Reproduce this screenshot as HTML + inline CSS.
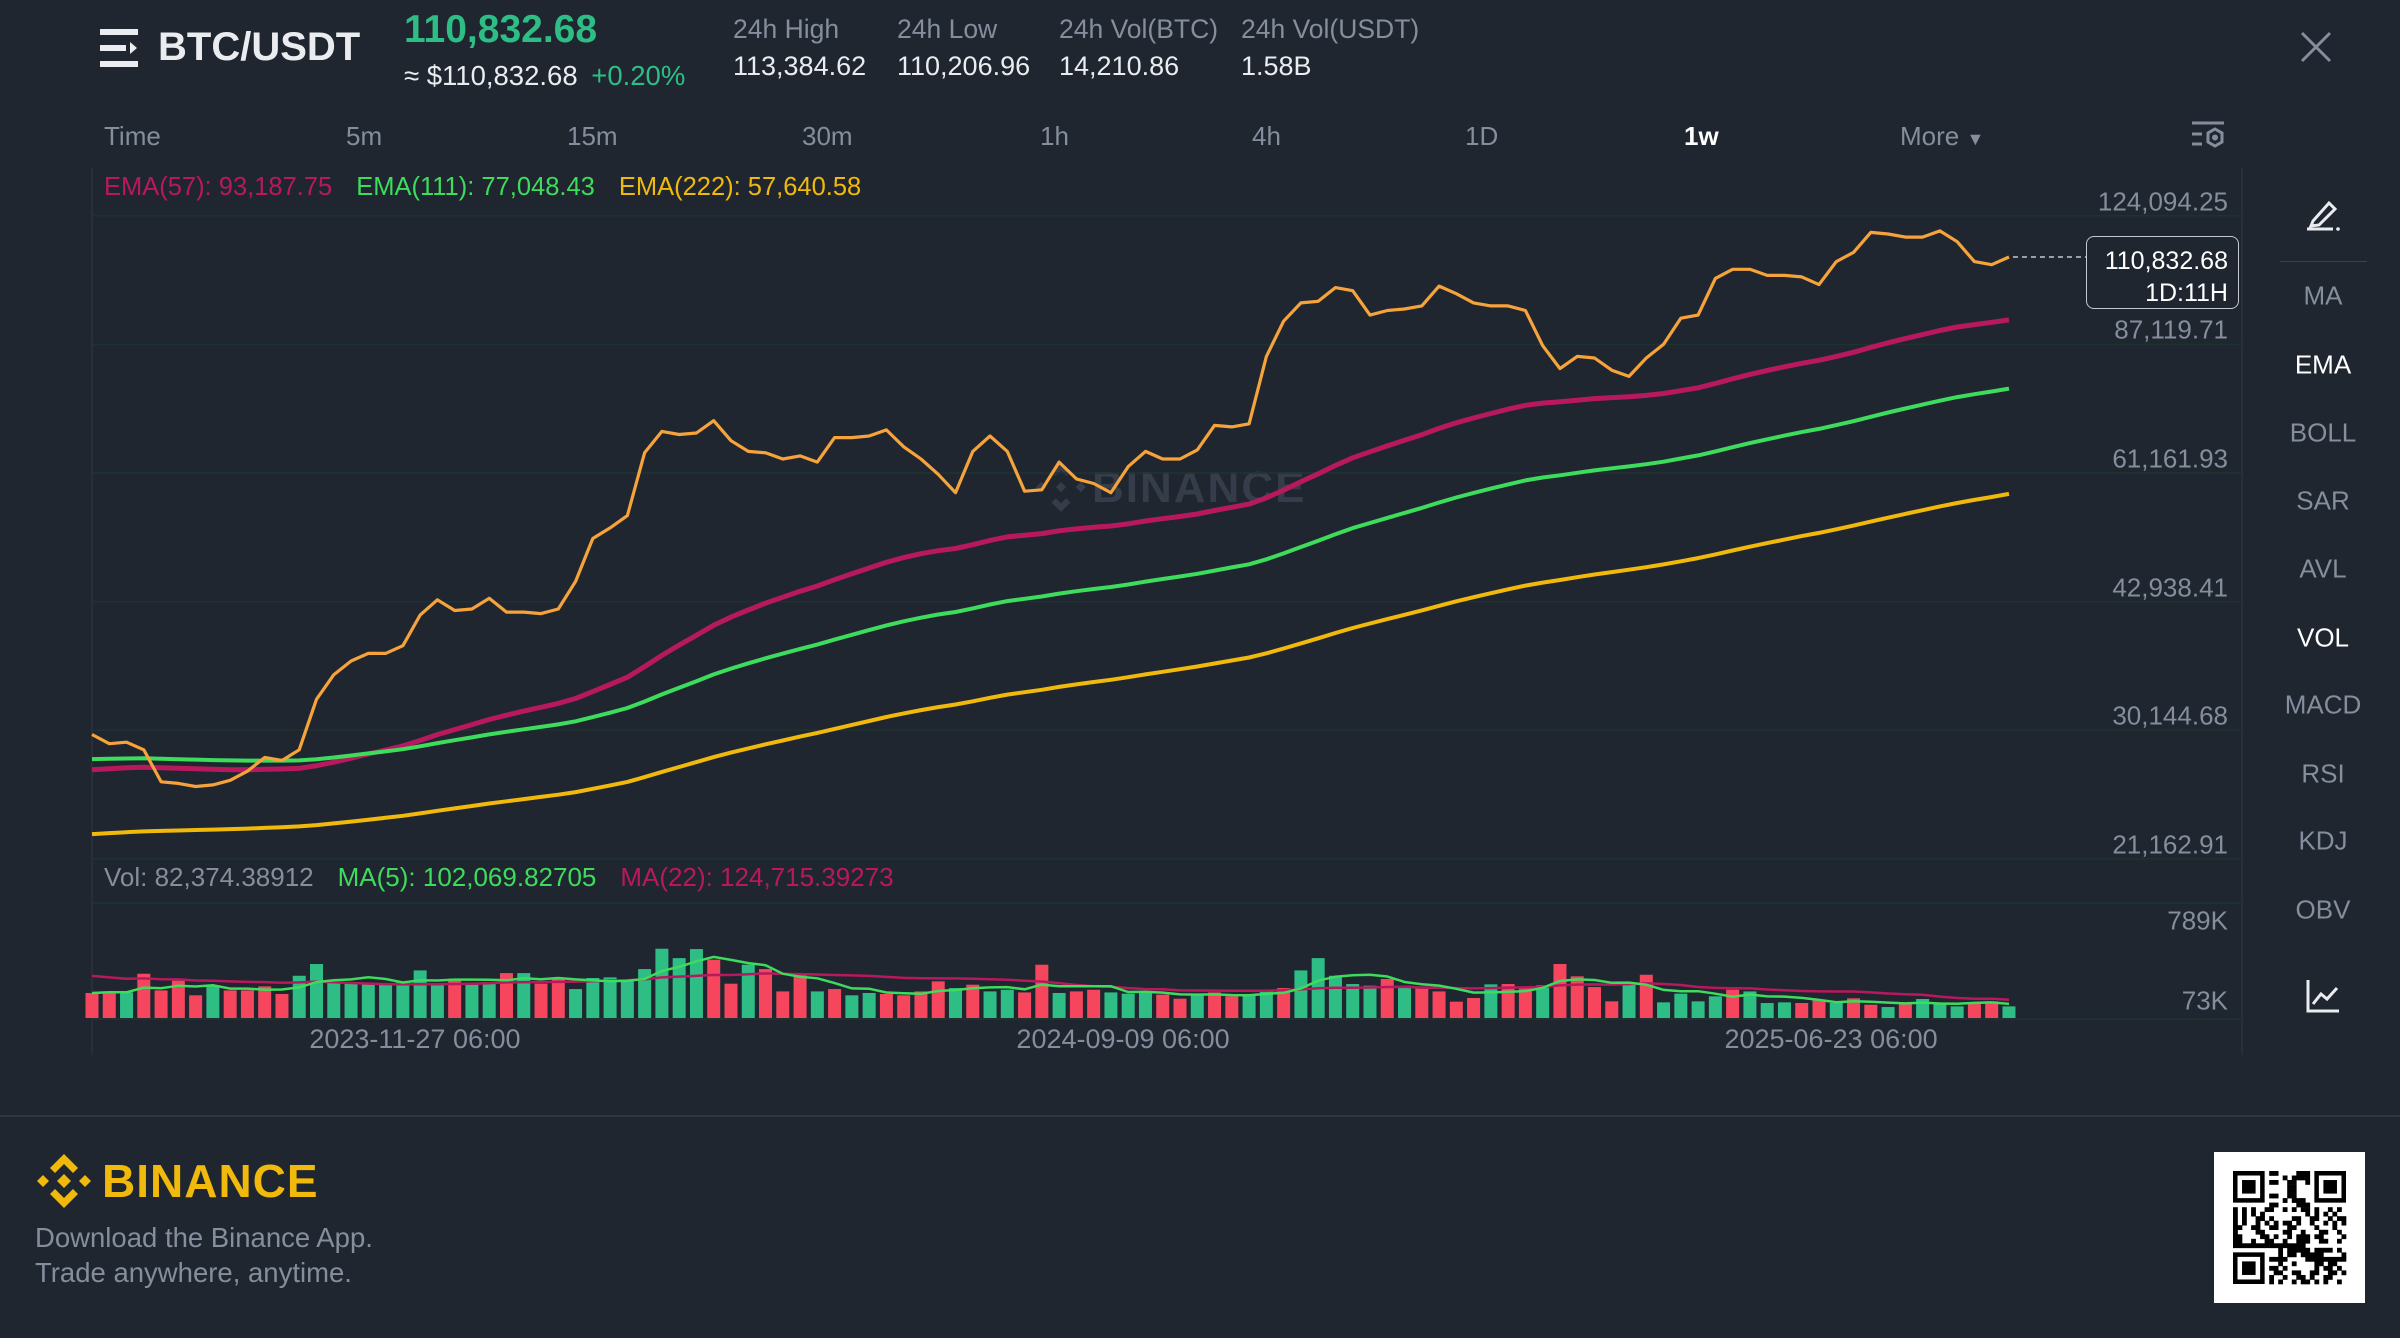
<!DOCTYPE html>
<html><head><meta charset="utf-8"><style>
*{margin:0;padding:0;box-sizing:border-box}
body{width:2400px;height:1338px;background:#1f2630;font-family:"Liberation Sans",sans-serif;overflow:hidden;position:relative;color:#eaecef}
.a{position:absolute;white-space:nowrap;line-height:1}
.g{color:#848e9c}
.tf{position:absolute;top:121px;font-size:26px;color:#848e9c}
.side{position:absolute;left:2323px;transform:translate(-50%,-50%);font-size:26px;color:#848e9c}
.ax{position:absolute;right:172px;font-size:26px;color:#848e9c;transform:translateY(-50%)}
</style></head><body>
<svg class="a" style="left:100px;top:29px" width="40" height="38" viewBox="0 0 40 38"><rect x="0" y="0" width="38" height="6" fill="#eaecef"/><rect x="0" y="16" width="26" height="6" fill="#eaecef"/><path d="M30 13 L37 19 L30 25Z" fill="#eaecef"/><rect x="0" y="32" width="38" height="6" fill="#eaecef"/></svg>
<div class="a" style="left:158px;top:27px;font-size:40px;font-weight:bold;color:#eaecef">BTC/USDT</div>
<div class="a" style="left:404px;top:10px;font-size:39px;font-weight:bold;color:#2ebd85">110,832.68</div>
<div class="a" style="left:404px;top:62px;font-size:27.5px;color:#eaecef">≈ $110,832.68 <span style="color:#2ebd85;margin-left:6px">+0.20%</span></div>
<div class="a g" style="left:733px;top:16px;font-size:26.5px">24h High</div>
<div class="a" style="left:733px;top:53px;font-size:27px">113,384.62</div>
<div class="a g" style="left:897px;top:16px;font-size:26.5px">24h Low</div>
<div class="a" style="left:897px;top:53px;font-size:27px">110,206.96</div>
<div class="a g" style="left:1059px;top:16px;font-size:26.5px">24h Vol(BTC)</div>
<div class="a" style="left:1059px;top:53px;font-size:27px">14,210.86</div>
<div class="a g" style="left:1241px;top:16px;font-size:26.5px">24h Vol(USDT)</div>
<div class="a" style="left:1241px;top:53px;font-size:27px">1.58B</div>
<svg class="a" style="left:2300px;top:31px" width="32" height="32"><path d="M2 2L30 30M30 2L2 30" stroke="#848e9c" stroke-width="3"/></svg>

<div class="tf" style="left:104px">Time</div>
<div class="tf" style="left:346px">5m</div>
<div class="tf" style="left:567px">15m</div>
<div class="tf" style="left:802px">30m</div>
<div class="tf" style="left:1040px">1h</div>
<div class="tf" style="left:1252px">4h</div>
<div class="tf" style="left:1465px">1D</div>
<div class="tf" style="left:1684px;color:#fff;font-weight:bold">1w</div>
<div class="tf" style="left:1900px">More <span style="font-size:18px">▼</span></div>
<svg class="a" style="left:2190px;top:120px" width="36" height="34"><path d="M2 3H34M2 14H12M2 24H12" stroke="#848e9c" stroke-width="3"/><path d="M25 9L32 13V22L25 26L18 22V13Z" fill="none" stroke="#848e9c" stroke-width="3"/><circle cx="25" cy="17.5" r="3" fill="#848e9c"/></svg>

<svg class="a" style="left:1036px;top:462px" width="50" height="50" viewBox="0 0 58 58"><g fill="#363d4a"><path d="M29 0L40 11L35 16L29 10L23 16L18 11Z"/><path d="M29 58L40 47L35 42L29 48L23 42L18 47Z"/><path d="M0 29L6 23L12 29L6 35Z"/><path d="M58 29L52 23L46 29L52 35Z"/><path d="M29 23L35 29L29 35L23 29Z"/></g></svg>
<div class="a" style="left:1092px;top:466px;font-size:44px;font-weight:bold;color:#363d4a;letter-spacing:2px">BINANCE</div>

<svg id="chart" class="a" style="left:0;top:0" width="2400" height="1338"></svg>

<div class="a" style="left:104px;top:175px;font-size:25.5px"><span style="color:#b8195e">EMA(57): 93,187.75</span><span style="color:#3ddc5c;margin-left:24px">EMA(111): 77,048.43</span><span style="color:#f0b90b;margin-left:24px">EMA(222): 57,640.58</span></div>
<div class="a" style="left:104px;top:864px;font-size:26px"><span class="g">Vol: 82,374.38912</span><span style="color:#3ddc5c;margin-left:24px">MA(5): 102,069.82705</span><span style="color:#b8195e;margin-left:24px">MA(22): 124,715.39273</span></div>
<div id="axis"></div>
<div class="a" style="left:2086px;top:236px;width:153px;height:73px;border:1.5px solid #c4c8cf;border-radius:8px;background:#1f2630;font-size:25px;text-align:right;padding:8px 10px 0 0;line-height:32px;color:#fff">110,832.68<br>1D:11H</div>

<svg class="a" style="left:2305px;top:195px" width="36" height="36"><path d="M8 26L24 8L30 14L14 30L6 31Z" fill="none" stroke="#eaecef" stroke-width="3"/><path d="M2 34H28" stroke="#eaecef" stroke-width="3"/><circle cx="33" cy="34" r="1.8" fill="#eaecef"/></svg>
<div class="a" style="left:2280px;top:261px;width:87px;height:1px;background:#3a414d"></div>
<div class="side" style="top:296px">MA</div>
<div class="side" style="top:365px;color:#fff">EMA</div>
<div class="side" style="top:433px">BOLL</div>
<div class="side" style="top:501px">SAR</div>
<div class="side" style="top:569px">AVL</div>
<div class="side" style="top:638px;color:#fff">VOL</div>
<div class="side" style="top:705px">MACD</div>
<div class="side" style="top:774px">RSI</div>
<div class="side" style="top:841px">KDJ</div>
<div class="side" style="top:910px">OBV</div>
<svg class="a" style="left:2305px;top:978px" width="36" height="36"><path d="M3 2V33H34" fill="none" stroke="#eaecef" stroke-width="3"/><path d="M8 26L16 16L22 21L32 10" fill="none" stroke="#eaecef" stroke-width="3"/></svg>

<div class="a" style="left:0;top:1115px;width:2400px;height:2px;background:#2f3542"></div>
<svg class="a" style="left:35px;top:1152px" width="58" height="58" viewBox="0 0 58 58"><g fill="#f0b90b"><path d="M29 2L43 16L38 21L29 12L20 21L15 16Z"/><path d="M29 56L43 42L38 37L29 46L20 37L15 42Z"/><path d="M2 29L8 23L14 29L8 35Z"/><path d="M56 29L50 23L44 29L50 35Z"/><path d="M29 22L36 29L29 36L22 29Z"/></g></svg>
<div class="a" style="left:102px;top:1158px;font-size:46px;font-weight:bold;color:#f0b90b;letter-spacing:1px">BINANCE</div>
<div class="a g" style="left:35px;top:1224px;font-size:27.5px">Download the Binance App.</div>
<div class="a g" style="left:35px;top:1259px;font-size:27.5px">Trade anywhere, anytime.</div>
<svg id="qr" class="a" style="left:2214px;top:1152px" width="151" height="151"></svg>

<script>
const closes=[29785,29046,29167,28558,26150,26040,25820,25930,26260,26930,27960,27730,28558,32820,35120,36460,37240,37240,38030,41370,43150,41900,42070,43330,41720,41720,41540,42070,45390,51080,52600,54400,64660,68580,68000,68290,70630,66860,64920,64660,63580,64120,63040,67430,67430,67720,68870,65740,63580,60950,57940,64920,67720,64920,58180,58410,63040,60180,59430,57940,62250,64920,63580,63580,65190,69740,69450,70030,84320,92880,97680,98100,101880,101030,94450,95650,96060,96870,102300,100180,97680,96870,96870,95650,86840,81520,84320,83950,81180,79800,83950,87200,93650,94450,104500,107150,107150,105370,105370,104920,102730,109430,112240,118580,118080,117080,117080,119080,115600,109430,108500,110832];
const emaSeeds=[27040,27840,22650];
const emaPeriods=[57,111,222];
const volumesK=[224,238,229,396,247,334,203,283,247,247,283,215,378,483,328,322,313,298,328,426,313,352,298,322,402,402,307,358,259,358,364,328,438,620,536,617,522,307,477,438,238,387,238,259,203,224,215,203,238,328,268,298,238,253,229,477,224,238,253,229,218,229,209,173,218,229,194,200,238,268,426,536,378,304,289,349,289,283,238,146,179,301,304,274,292,483,373,277,149,304,387,140,218,149,194,253,238,134,140,134,164,134,176,119,98,128,170,134,104,140,149,104];
const upFlags="rrgrrrrgrrrrggggggggg rggrgrrggggggggrrgrrrgrggrrrrgrggrrgrrgggrrgrrggrgggggrgrrrrgrrgrrrrgrggggrgggrrgrrgrgggrrgrrg".replace(/ /g,'');
const volSeedMA22=[480,460,430,400,380,360,340,320];
const priceTicks=[124094.25,87119.71,61161.93,42938.41,30144.68,21162.91];
const volTicks=[789,73];
const dateLabels=["2023-11-27 06:00","2024-09-09 06:00","2025-06-23 06:00"];
const dateIdx=[18.7,59.7,100.7];

const NS="http://www.w3.org/2000/svg";
const svg=document.getElementById('chart');
const X0=92,DX=17.27;
const xs=i=>X0+i*DX;
const LOGPX=836.8, ANCH=Math.log10(110832.68), YANCH=257;
const yP=p=>YANCH-(Math.log10(p)-ANCH)*LOGPX;
const VB=1018, VPX=80/716;
const yV=v=>VB-v*VPX;
function mk(t,a){const e=document.createElementNS(NS,t);for(const k in a)e.setAttribute(k,a[k]);svg.appendChild(e);return e;}

priceTicks.forEach(p=>{const l=mk('line',{x1:92,x2:2242,y1:yP(p),y2:yP(p),stroke:'#1e3330','stroke-width':1.5});

});
const lb=mk('line',{x1:92,x2:92,y1:168,y2:1055,stroke:'#2b323d','stroke-width':1.5});


const rb=mk('line',{x1:2242,x2:2242,y1:168,y2:1055,stroke:'#2b323d','stroke-width':1.5});


const vt=mk('line',{x1:92,x2:2242,y1:903,y2:903,stroke:'#1e3330','stroke-width':1.5});


const vb=mk('line',{x1:92,x2:2242,y1:VB+1,y2:VB+1,stroke:'#1e3330','stroke-width':1.5});



const emaColors=['#b8195e','#3ddc5c','#f0b90b'];
const emaNames=['ema-57-line','ema-111-line','ema-222-line'];
emaPeriods.forEach((n,k)=>{const a=2/(n+1);let e=emaSeeds[k];const pts=[];
closes.forEach((c,i)=>{if(i>0)e=a*c+(1-a)*e;pts.push(xs(i).toFixed(1)+','+yP(e).toFixed(1));});
const pl=mk('polyline',{points:pts.join(' '),fill:'none',stroke:emaColors[k],'stroke-width':k==0?5:4,'stroke-linejoin':'round'});

});

const cl=mk('polyline',{points:closes.map((c,i)=>xs(i).toFixed(1)+','+yP(c).toFixed(1)).join(' '),fill:'none',stroke:'#f7a33b','stroke-width':3.2,'stroke-linejoin':'round'});


const last=closes.length-1;
const dl=mk('line',{x1:xs(last)+4,x2:2086,y1:yP(closes[last]),y2:yP(closes[last]),stroke:'#c4c8cf','stroke-width':1.5,'stroke-dasharray':'5 4'});



volumesK.forEach((v,i)=>{const r=mk('rect',{x:xs(i)-6.5,y:yV(v),width:13,height:VB-yV(v),fill:upFlags[i]==='g'?'#2ebd85':'#f6465d'});

});
function ma(n,seed){const all=seed.concat(volumesK);const off=seed.length;return volumesK.map((v,i)=>{const j=i+off;const s=all.slice(Math.max(0,j-n+1),j+1);return s.reduce((a,b)=>a+b,0)/s.length;});}
[[22,'#b8195e','volume-ma22-line',volSeedMA22],[5,'#3ddc5c','volume-ma5-line',[]]].forEach(([n,c,nm,sd])=>{
const pl=mk('polyline',{points:ma(n,sd).map((v,i)=>xs(i).toFixed(1)+','+yV(v).toFixed(1)).join(' '),fill:'none',stroke:c,'stroke-width':2.5});

});

const ax=document.getElementById('axis');
priceTicks.forEach(p=>{const d=document.createElement('div');d.className='ax';d.style.top=(yP(p)-14)+'px';d.textContent=p.toLocaleString('en-US',{minimumFractionDigits:2});

ax.appendChild(d);});
volTicks.forEach(v=>{const d=document.createElement('div');d.className='ax';d.style.top=(yV(v)-9)+'px';d.textContent=v+'K';

ax.appendChild(d);});
dateLabels.forEach((t,k)=>{const d=document.createElement('div');d.className='a g';d.style.cssText+='font-size:27px;top:1026px;left:'+xs(dateIdx[k])+'px;transform:translateX(-50%)';d.textContent=t;

ax.appendChild(d);});

const qr=document.getElementById('qr');
qr.innerHTML='<rect width="151" height="151" fill="#fff"/>';
const M=25,S=4.52,O=19;let h='';
function fin(cx,cy){h+=`<rect x="${O+cx*S}" y="${O+cy*S}" width="${7*S}" height="${7*S}" fill="#000"/><rect x="${O+(cx+1)*S}" y="${O+(cy+1)*S}" width="${5*S}" height="${5*S}" fill="#fff"/><rect x="${O+(cx+2)*S}" y="${O+(cy+2)*S}" width="${3*S}" height="${3*S}" fill="#000"/>`;}
for(let i=0;i<M;i++)for(let j=0;j<M;j++){if((i<8&&j<8)||(i>16&&j<8)||(i<8&&j>16))continue;if(((i*7+j*13+i*j*3+(i^j))%7)<3)h+=`<rect x="${(O+i*S).toFixed(1)}" y="${(O+j*S).toFixed(1)}" width="${S+0.3}" height="${S+0.3}" fill="#000"/>`;}
fin(0,0);fin(18,0);fin(0,18);
qr.innerHTML+=h;
</script>
</body></html>
